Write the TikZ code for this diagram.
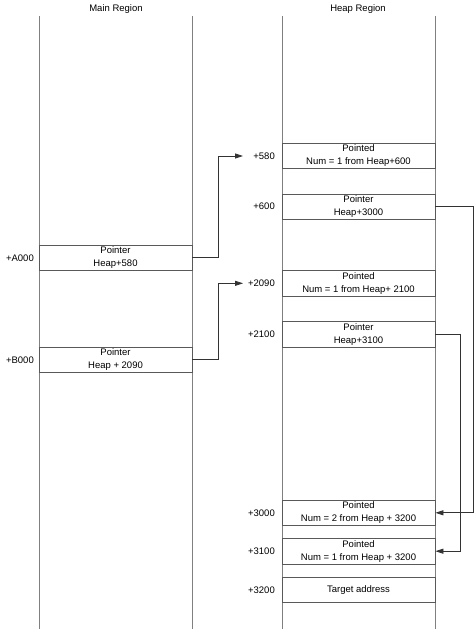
\documentclass[tikz,border=0pt]{standalone}
\usepackage{fontspec}
\setmainfont{Liberation Sans}
\usetikzlibrary{arrows.meta}
\begin{document}
\begin{tikzpicture}[x=1pt,y=-1pt,
  cell/.style={draw=black!65, line width=0.8pt, minimum width=153pt, minimum height=25.5pt, inner sep=0pt, align=center, font=\fontsize{9.5}{13}\selectfont},
  addr/.style={anchor=east, font=\fontsize{9.5}{11}\selectfont, inner sep=1pt},
  title/.style={font=\fontsize{9.5}{11}\selectfont, inner sep=1pt},
  region/.style={draw=black!50, line width=0.8pt},
  link/.style={draw=black!80, line width=0.8pt, -{Triangle[length=8pt,width=5pt]}}]
\useasboundingbox (0,0) rectangle (474,629);
% titles
\node[title] (mt) at (116,9) {Main Region};
\node[title] (ht) at (358,9) {Heap Region};
% region walls
\draw[region] (39,16) -- (39,629);
\draw[region] (192,16) -- (192,629);
\draw[region] (282,16) -- (282,629);
\draw[region] (435,16) -- (435,629);
% main region cells
\node[cell] (a000) at (115.5,257.8) {Pointer\\Heap+580};
\node[cell] (b000) at (115.5,359.8) {Pointer\\Heap + 2090};
\node[addr] (la000) at (35,257.8) {+A000};
\node[addr] (lb000) at (35,359.8) {+B000};
% heap region cells
\node[cell] (h580)  at (358.5,156)   {Pointed\\Num = 1 from Heap+600};
\node[cell] (h600)  at (358.5,206.7) {Pointer\\Heap+3000};
\node[cell] (h2090) at (358.5,283.3) {Pointed\\Num = 1 from Heap+ 2100};
\node[cell] (h2100) at (358.5,334.3) {Pointer\\Heap+3100};
\node[cell] (h3000) at (358.5,512.8) {Pointed\\Num = 2 from Heap + 3200};
\node[cell] (h3100) at (358.5,551.2) {Pointed\\Num = 1 from Heap + 3200};
\node[cell] (h3200) at (358.5,589.8) {Target address};
\node[addr] (l580)  at (276,156)   {+580};
\node[addr] (l600)  at (276,206.7) {+600};
\node[addr] (l2090) at (276,283.3) {+2090};
\node[addr] (l2100) at (276,334.3) {+2100};
\node[addr] (l3000) at (276,512.8) {+3000};
\node[addr] (l3100) at (276,551.2) {+3100};
\node[addr] (l3200) at (276,589.8) {+3200};
% connectors
\coordinate (jm) at (218,0);
\coordinate (tipx) at (243,0);
\draw[link] (a000.east) -- (a000.east -| jm) |- (l580.west -| tipx);
\draw[link] (b000.east) -- (b000.east -| jm) |- (l2090.west -| tipx);
\coordinate (jr1) at (473,0);
\coordinate (jr2) at (460,0);
\draw[link] (h600.east) -- (h600.east -| jr1) |- (h3000.east);
\draw[link] (h2100.east) -- (h2100.east -| jr2) |- (h3100.east);
\end{tikzpicture}
\end{document}
